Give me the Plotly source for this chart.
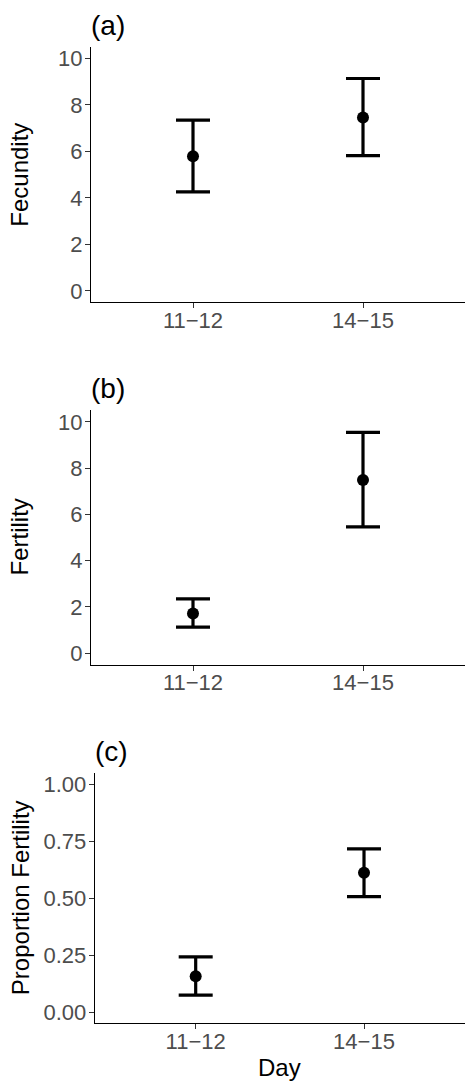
import plotly.graph_objects as go

W, H = 474, 1090

days = ["11−12", "14−15"]

# Panel (a) Fecundity
fec_mean = [5.79, 7.46]
fec_upper = [7.35, 9.14]
fec_lower = [4.26, 5.82]

# Panel (b) Fertility
fer_mean = [1.72, 7.49]
fer_upper = [2.35, 9.54]
fer_lower = [1.13, 5.46]

# Panel (c) Proportion Fertility
prop_mean = [0.157, 0.612]
prop_upper = [0.242, 0.716]
prop_lower = [0.074, 0.507]

y_titles = ["Fecundity", "Fertility", "Proportion Fertility"]
panel_labels = ["(a)", "(b)", "(c)"]
y_ticks = [[0, 2, 4, 6, 8, 10], [0, 2, 4, 6, 8, 10], [0, 0.25, 0.5, 0.75, 1.0]]
y_ticktext = [["0", "2", "4", "6", "8", "10"], ["0", "2", "4", "6", "8", "10"],
              ["0.00", "0.25", "0.50", "0.75", "1.00"]]
y_ranges = [[-0.5, 10.5], [-0.5, 10.5], [-0.05, 1.05]]

# pixel geometry (top, bottom, left, right)
boxes = [(46, 302, 91, 465), (410, 665, 91, 465), (773.3, 1024.3, 94.7, 465)]

FONT = "Liberation Sans"
fig = go.Figure()

series = [(fec_mean, fec_upper, fec_lower), (fer_mean, fer_upper, fer_lower),
          (prop_mean, prop_upper, prop_lower)]

annotations = []
for i, ((m, up, lo), (top, bot, left, right)) in enumerate(zip(series, boxes)):
    n = "" if i == 0 else str(i + 1)
    fig.add_trace(go.Scatter(
        x=days, y=m, mode="markers",
        marker=dict(color="black", size=12),
        error_y=dict(type="data", symmetric=False,
                     array=[u - v for u, v in zip(up, m)],
                     arrayminus=[v - l for v, l in zip(m, lo)],
                     color="black", thickness=3.2, width=17),
        xaxis="x" + n, yaxis="y" + n, showlegend=False, hoverinfo="skip",
    ))
    xd = [left / W, right / W]
    yd = [1 - bot / H, 1 - top / H]
    axis_common = dict(showline=True, linecolor="black", linewidth=1.1,
                       ticks="outside", ticklen=5, tickwidth=1.1, tickcolor="#333333",
                       showgrid=False, zeroline=False,
                       tickfont=dict(family=FONT, size=22, color="#4D4D4D"))
    fig.update_layout(**{
        "xaxis" + n: dict(domain=xd, anchor="y" + n, type="category",
                          range=[-0.6, 1.6], ticklabelstandoff=-7, **axis_common),
        "yaxis" + n: dict(domain=yd, anchor="x" + n, range=y_ranges[i],
                          tickvals=y_ticks[i], ticktext=y_ticktext[i],
                          ticklabelstandoff=-2, **axis_common),
    })
    annotations.append(dict(text=y_titles[i], xref="paper", yref="paper",
                            x=20 / W, y=1 - ((top + bot) / 2) / H, textangle=-90,
                            showarrow=False, xanchor="center", yanchor="middle",
                            font=dict(family=FONT, size=24, color="black")))
    label_y = [25, 388, 751.5][i]
    annotations.append(dict(text=panel_labels[i], xref="paper", yref="paper",
                            x=(left - 2) / W, y=1 - label_y / H, showarrow=False,
                            xanchor="left", yanchor="middle",
                            font=dict(family=FONT, size=28, color="black")))

annotations.append(dict(text="Day", xref="paper", yref="paper",
                        x=((94.7 + 465) / 2) / W, y=1 - 1068 / H, showarrow=False,
                        xanchor="center", yanchor="middle",
                        font=dict(family=FONT, size=24, color="black")))

fig.update_layout(width=W, height=H, margin=dict(l=0, r=0, t=0, b=0),
                  plot_bgcolor="white", paper_bgcolor="white",
                  annotations=annotations)

fig.write_html("out.html", config={"displayModeBar": False},
               post_script="document.body.style.margin='0px';"
                           "document.body.style.overflow='hidden';")
